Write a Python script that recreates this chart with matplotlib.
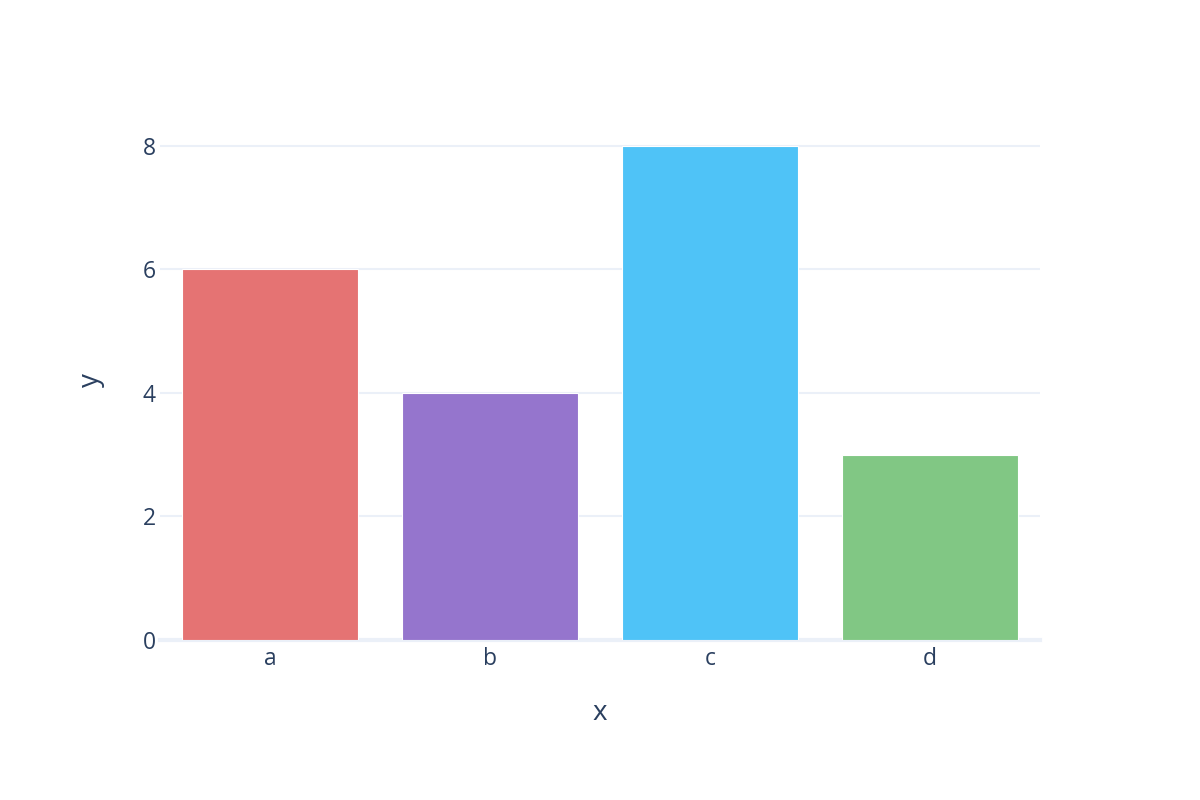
import matplotlib.pyplot as plt

categories = ["a", "b", "c", "d"]
values = [6, 4, 8, 3]
colors = ["#E57373", "#9575CD", "#4FC3F7", "#81C784"]

plt.rcParams["font.family"] = ["Open Sans", "DejaVu Sans"]
text_color = "#2a3f5f"
grid_color = "#EBF0F8"

fig = plt.figure(figsize=(12, 8), dpi=100)
ax = fig.add_axes([160 / 1200, 160 / 800, 880 / 1200, 520 / 800])

ax.bar(categories, values, width=0.8, color=colors, edgecolor="white", linewidth=0.8, zorder=3)

ax.set_xlim(-0.5, 3.5)
ax.set_ylim(0, 8.42)
ax.set_yticks([0, 2, 4, 6, 8])

# plotly-like grid
ax.grid(axis="y", color=grid_color, linewidth=1.5, zorder=0)
ax.axhline(0, color=grid_color, linewidth=3, zorder=2, clip_on=False)
for s in ax.spines.values():
    s.set_visible(False)

ax.tick_params(axis="both", length=0, labelsize=16.5, labelcolor=text_color)
ax.tick_params(axis="y", pad=3)
ax.tick_params(axis="x", pad=5)

ax.set_xlabel("x", fontsize=20, color=text_color, labelpad=20)
ax.set_ylabel("y", fontsize=20, color=text_color, labelpad=27)

fig.savefig("out.png", dpi=100, facecolor="white")
